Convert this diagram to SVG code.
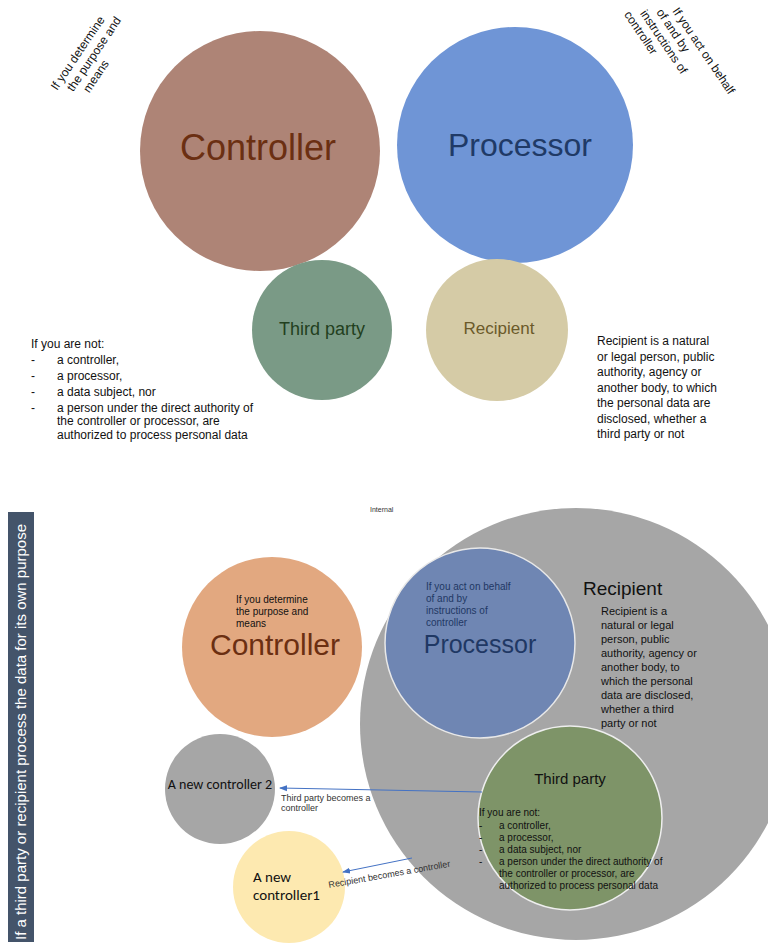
<svg xmlns="http://www.w3.org/2000/svg" width="768" height="947" viewBox="0 0 768 947">
<style>
text{font-family:"Liberation Sans",Arial,sans-serif;fill:#111}
.s{font-size:12px}
.xs{font-size:9px;fill:#333}
.c{font-family:Calibri,"Carlito","Liberation Sans",sans-serif}
</style>
<defs><marker id="a" markerWidth="8" markerHeight="8" refX="7" refY="4" orient="auto"><path d="M0,1 L8,4 L0,7Z" fill="#4472c4"/></marker></defs>
<rect width="768" height="947" fill="#fff"/>
<g id="top-controller"><circle cx="260" cy="151" r="120" fill="#ae8476"/><text x="258" y="160" font-size="36" text-anchor="middle" style="fill:#6b2f12">Controller</text></g>
<g id="top-processor"><circle cx="515" cy="145" r="118" fill="#6f95d6"/><text x="520" y="156" font-size="32" text-anchor="middle" style="fill:#203a66">Processor</text></g>
<g id="top-third"><circle cx="322" cy="330" r="70" fill="#7a9a86"/><text x="322" y="335" font-size="18" text-anchor="middle" style="fill:#22401e">Third party</text></g>
<g id="top-recipient"><circle cx="497" cy="330" r="71" fill="#d5cba6"/><text x="499" y="334" font-size="17" text-anchor="middle" style="fill:#6b5a2a">Recipient</text></g>
<g id="top-notes">
<text class="s" transform="translate(57,91) rotate(-56)"><tspan x="0" y="0">If you determine</tspan><tspan x="8" y="14">the purpose and</tspan><tspan x="16" y="28">means</tspan></text>
<text class="s" transform="translate(672,11) rotate(56)"><tspan x="0" y="0">If you act on behalf</tspan><tspan x="-8" y="14">of and by</tspan><tspan x="-16" y="28">instructions of</tspan><tspan x="-24" y="42">controller</tspan></text>
<text class="s"><tspan x="31" y="348">If you are not:</tspan><tspan x="31" y="364">-</tspan><tspan x="57" y="364">a controller,</tspan><tspan x="31" y="380">-</tspan><tspan x="57" y="380">a processor,</tspan><tspan x="31" y="396">-</tspan><tspan x="57" y="396">a data subject, nor</tspan><tspan x="31" y="412">-</tspan><tspan x="57" y="412">a person under the direct authority of</tspan><tspan x="57" y="425">the controller or processor, are</tspan><tspan x="57" y="439">authorized to process personal data</tspan></text>
<text class="s"><tspan x="597" y="345">Recipient is a natural</tspan><tspan x="597" y="361">or legal person, public</tspan><tspan x="597" y="376">authority, agency or</tspan><tspan x="597" y="392">another body, to which</tspan><tspan x="597" y="407">the personal data are</tspan><tspan x="597" y="423">disclosed, whether a</tspan><tspan x="597" y="438">third party or not</tspan></text>
</g>
<g id="sidebar"><rect x="8" y="512" width="26" height="430" fill="#44546a"/><text transform="translate(26,940) rotate(-90)" font-size="15" style="fill:#fff">If a third party or recipient process the data for its own purpose</text></g>
<text x="370" y="512" font-size="7" style="fill:#333">Internal</text>
<g id="recipient"><circle cx="576" cy="724" r="216" fill="#a6a6a6"/><text x="583" y="595" font-size="19">Recipient</text>
<text font-size="11"><tspan x="601" y="615">Recipient is a</tspan><tspan x="601" y="629">natural or legal</tspan><tspan x="601" y="643">person, public</tspan><tspan x="601" y="657">authority, agency or</tspan><tspan x="601" y="671">another body, to</tspan><tspan x="601" y="685">which the personal</tspan><tspan x="601" y="699">data are disclosed,</tspan><tspan x="601" y="713">whether a third</tspan><tspan x="601" y="727">party or not</tspan></text></g>
<g id="processor"><circle cx="480" cy="643" r="95" fill="#6f86b3" stroke="#e8e8e8" stroke-width="1.5"/><text x="480" y="653" font-size="25" text-anchor="middle" style="fill:#1f3864">Processor</text>
<text font-size="10" style="fill:#1f3864"><tspan x="426" y="590">If you act on behalf</tspan><tspan x="426" y="602">of and by</tspan><tspan x="426" y="614">instructions of</tspan><tspan x="426" y="626">controller</tspan></text></g>
<g id="controller"><circle cx="272" cy="647" r="90" fill="#e2a880"/><text x="275" y="655" font-size="30" text-anchor="middle" style="fill:#6b2f12">Controller</text>
<text font-size="10"><tspan x="236" y="603">If you determine</tspan><tspan x="236" y="615">the purpose and</tspan><tspan x="236" y="627">means</tspan></text></g>
<g id="third-party"><circle cx="570" cy="818" r="92" fill="#7e9468" stroke="#eee" stroke-width="1.5"/><text x="570" y="784" font-size="15" text-anchor="middle">Third party</text>
<text font-size="10"><tspan x="479" y="816">If you are not:</tspan><tspan x="479" y="829">-</tspan><tspan x="499" y="829">a controller,</tspan><tspan x="479" y="841">-</tspan><tspan x="499" y="841">a processor,</tspan><tspan x="479" y="853">-</tspan><tspan x="499" y="853">a data subject, nor</tspan><tspan x="479" y="865">-</tspan><tspan x="499" y="865">a person under the direct authority of</tspan><tspan x="499" y="877">the controller or processor, are</tspan><tspan x="499" y="889">authorized to process personal data</tspan></text></g>
<g id="new2"><circle cx="220" cy="789" r="55" fill="#a6a6a6"/><text x="220" y="789" font-size="14" text-anchor="middle" class="c">A new controller 2</text></g>
<g id="new1"><circle cx="289" cy="887" r="56" fill="#fde9b0"/><text font-size="15" class="c"><tspan x="253" y="882">A new</tspan><tspan x="253" y="900">controller1</tspan></text></g>
<g id="connectors">
<line x1="482" y1="792" x2="280" y2="788" stroke="#4472c4" stroke-width="1" marker-end="url(#a)"/>
<line x1="412" y1="858" x2="343" y2="872" stroke="#4472c4" stroke-width="1" marker-end="url(#a)"/>
<text class="xs"><tspan x="281" y="801">Third party becomes a</tspan><tspan x="281" y="811">controller</tspan></text>
<text class="xs" transform="translate(329,888) rotate(-10)">Recipient becomes a controller</text>
</g>
</svg>
